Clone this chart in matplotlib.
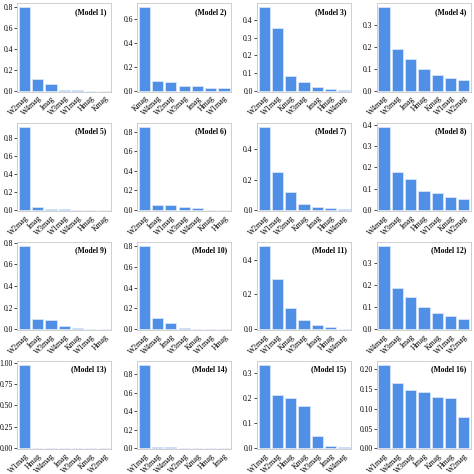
import numpy as np
import matplotlib.pyplot as plt

plt.rcParams['font.family'] = ['Liberation Serif', 'DejaVu Serif']

# Feature names and importances per model
labels = [
    ['W2mag', 'W4mag', 'Jmag', 'W3mag', 'W1mag', 'Hmag', 'Kmag'],
    ['Kmag', 'W4mag', 'W2mag', 'W3mag', 'Jmag', 'Hmag', 'W1mag'],
    ['W2mag', 'W1mag', 'Kmag', 'W3mag', 'Jmag', 'Hmag', 'W4mag'],
    ['W4mag', 'W3mag', 'Jmag', 'Hmag', 'Kmag', 'W1mag', 'W2mag'],
    ['W2mag', 'Jmag', 'W3mag', 'W1mag', 'W4mag', 'Hmag', 'Kmag'],
    ['W2mag', 'Jmag', 'W1mag', 'W3mag', 'W4mag', 'Kmag', 'Hmag'],
    ['W2mag', 'W1mag', 'W3mag', 'Kmag', 'Jmag', 'Hmag', 'W4mag'],
    ['W4mag', 'W3mag', 'Jmag', 'Hmag', 'W1mag', 'Kmag', 'W2mag'],
    ['W2mag', 'Jmag', 'W3mag', 'W4mag', 'Kmag', 'W1mag', 'Hmag'],
    ['W2mag', 'W4mag', 'Jmag', 'W3mag', 'Kmag', 'W1mag', 'Hmag'],
    ['W2mag', 'W1mag', 'Kmag', 'W3mag', 'Jmag', 'Hmag', 'W4mag'],
    ['W4mag', 'W3mag', 'Jmag', 'Hmag', 'Kmag', 'W1mag', 'W2mag'],
    ['W1mag', 'Hmag', 'W4mag', 'Jmag', 'W3mag', 'Kmag', 'W2mag'],
    ['W1mag', 'W3mag', 'W4mag', 'W2mag', 'Kmag', 'Hmag', 'Jmag'],
    ['W1mag', 'W2mag', 'Hmag', 'Kmag', 'W3mag', 'Jmag', 'W4mag'],
    ['W1mag', 'W4mag', 'W3mag', 'Jmag', 'Kmag', 'Hmag', 'W2mag'],
]
values = [
    [0.80, 0.11, 0.06, 0.01, 0.002, 0.001, 0.001],
    [0.70, 0.08, 0.07, 0.04, 0.04, 0.025, 0.02],
    [0.47, 0.355, 0.085, 0.048, 0.018, 0.012, 0.003],
    [0.38, 0.19, 0.145, 0.10, 0.072, 0.058, 0.048],
    [0.93, 0.03, 0.015, 0.01, 0.003, 0.002, 0.001],
    [0.85, 0.05, 0.045, 0.03, 0.02, 0.003, 0.002],
    [0.55, 0.25, 0.115, 0.042, 0.018, 0.012, 0.006],
    [0.39, 0.178, 0.145, 0.09, 0.077, 0.06, 0.05],
    [0.77, 0.095, 0.08, 0.03, 0.01, 0.005, 0.002],
    [0.80, 0.105, 0.06, 0.012, 0.005, 0.003, 0.001],
    [0.48, 0.29, 0.12, 0.055, 0.025, 0.015, 0.003],
    [0.38, 0.19, 0.145, 0.10, 0.072, 0.058, 0.048],
    [0.97, 0.005, 0.003, 0.002, 0.001, 0.001, 0.0],
    [0.90, 0.02, 0.015, 0.005, 0.003, 0.002, 0.001],
    [0.33, 0.21, 0.20, 0.17, 0.05, 0.01, 0.005],
    [0.21, 0.165, 0.148, 0.142, 0.13, 0.127, 0.08],
]

fig, axes = plt.subplots(4, 4, figsize=(4.74, 4.74), dpi=100)
fig.subplots_adjust(left=0.036, right=0.994, top=0.993, bottom=0.052,
                    wspace=0.27, hspace=0.35)

for i, ax in enumerate(axes.flat):
    v = values[i]
    x = np.arange(len(v))
    ax.bar(x, v, width=0.84, color='#4f8fe6', edgecolor='#dfe9f8', lw=0.5)
    ax.set_xlim(-0.55, len(v) - 0.45)
    ax.set_ylim(-0.012 * max(v), 1.05 * max(v))
    ax.set_xticks(x)
    ax.set_xticklabels(labels[i], rotation=45, ha='right', rotation_mode='anchor',
                       fontsize=5.5)
    ax.tick_params(axis='x', length=0, pad=2)
    ax.tick_params(axis='y', labelsize=5.5, length=2, width=0.5, pad=1)
    for s in ax.spines.values():
        s.set_color('#c8c8c8')
        s.set_linewidth(0.6)
    ax.text(0.95, 0.95, '(Model %d)' % (i + 1), transform=ax.transAxes,
            ha='right', va='top', fontsize=5.5, fontweight='bold')

fig.savefig('out.png', dpi=100)
